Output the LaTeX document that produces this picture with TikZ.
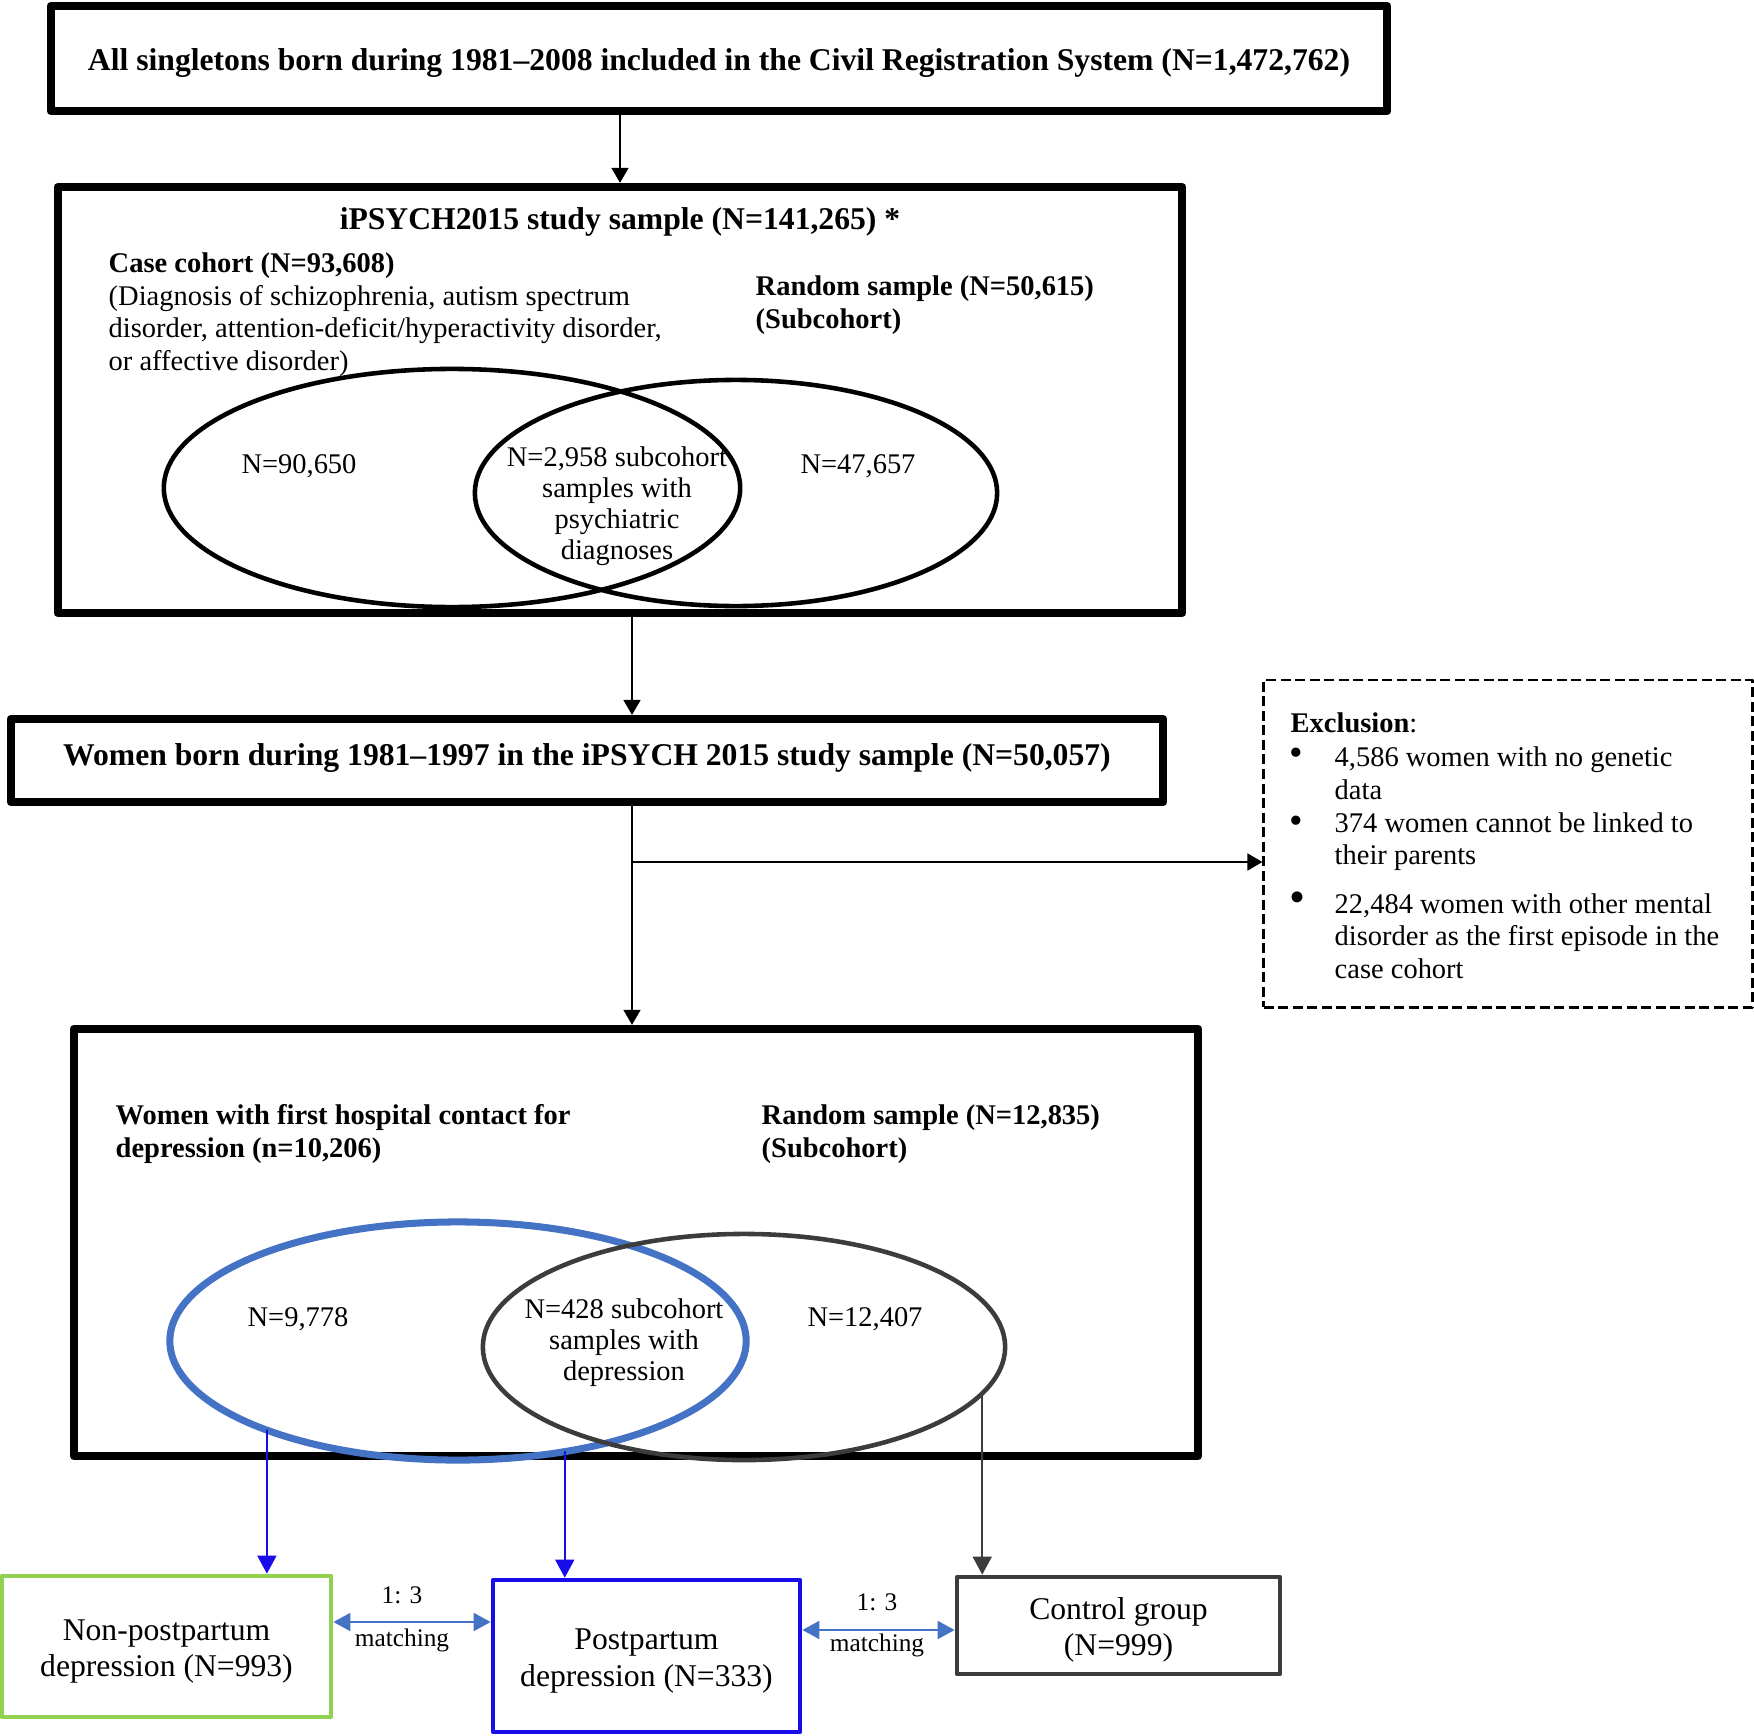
\documentclass[tikz,border=0pt]{standalone}
\usepackage{fontspec}
\setmainfont{Liberation Serif}
\usetikzlibrary{arrows.meta,shapes.geometric}
\definecolor{vennblue}{HTML}{4472C4}
\definecolor{ppblue}{RGB}{24,12,232}
\definecolor{npgreen}{HTML}{92D050}
\definecolor{ctrlgray}{HTML}{3C3C3C}
\newcommand{\twolines}[2]{\raisebox{-1.3pt}[\height][\depth]{\begin{tabular}{@{}c@{}}#1\\#2\end{tabular}}}

\begin{document}
\begin{tikzpicture}[line cap=round,line join=round,>={Triangle[length=0.15cm,width=0.17cm]},x=0.01cm,y=-0.01cm,
    bigbox/.style={draw,line width=2.3pt,inner sep=0pt,font=\bfseries\fontsize{9}{10.5}\selectfont},
    txt/.style={inner sep=0pt,align=left,font=\fontsize{8.1}{9.3}\selectfont},
    venn/.style={ellipse,draw,inner sep=0pt,outer sep=0pt,line width=1.3pt},
    endbox/.style={draw,line width=1.3pt,inner sep=0pt,align=center,font=\fontsize{9}{10.5}\selectfont},
    small/.style={inner sep=0pt,font=\fontsize{7.2}{8}\selectfont},
    flow/.style={->,line width=0.45pt},
    match/.style={{Triangle[length=0.17cm,width=0.18cm]}-{Triangle[length=0.17cm,width=0.18cm]},vennblue,line width=0.6pt}]
    \useasboundingbox (0,0) rectangle (1754,1736);

    % source population
    \node[bigbox,minimum width=13.36cm,minimum height=1.05cm] (all) at (719,58.5)
        {\raisebox{-1.3pt}[\height][\depth]{All singletons born during 1981--2008 included in the Civil Registration System (N=1,472,762)}};

    % iPSYCH2015 sample
    \node[bigbox,minimum width=11.24cm,minimum height=4.26cm] (sample) at (620,400) {};
    \node[txt,font=\bfseries\fontsize{9}{10.5}\selectfont] (sampleTitle) at (620,222) {iPSYCH2015 study sample (N=141,265) *};
    \node[txt,anchor=west] (caseText) at (108,314.5) {\textbf{Case cohort (N=93,608)}\\(Diagnosis of schizophrenia, autism spectrum\\disorder, attention-deficit/hyperactivity disorder,\\or affective disorder)};
    \node[txt,anchor=west] (randText) at (755,305) {\textbf{Random sample (N=50,615)}\\\textbf{(Subcohort)}};
    \node[venn,minimum width=5.76cm,minimum height=2.38cm] (caseEll) at (452,488) {};
    \node[venn,minimum width=5.22cm,minimum height=2.26cm] (randEll) at (736,493) {};
    \node[txt] (caseOnly) at (299,466) {N=90,650};
    \node[txt] (randOnly) at (858,466) {N=47,657};
    \node[txt,align=center,font=\fontsize{8.1}{8.8}\selectfont] (overlap) at (617,506) {N=2,958 subcohort\\samples with\\psychiatric\\diagnoses};

    % women born 1981-1997
    \node[bigbox,minimum width=11.52cm,minimum height=0.83cm] (women) at (587,760.5)
        {\raisebox{0.6pt}[\height][\depth]{Women born during 1981--1997 in the iPSYCH 2015 study sample (N=50,057)}};

    % exclusions
    \node[draw,line width=0.8pt,dash pattern=on 0.1cm off 0.045cm,line cap=butt,minimum width=4.88cm,minimum height=3.27cm,inner sep=0pt] (excl) at (1508,843.5) {};
    \node[txt,anchor=west] (exclHead) at (1290,723) {\textbf{Exclusion}:};
    \node[txt,font=\fontsize{11}{12}\selectfont] (dot1) at (1296,757) {\textbullet};
    \node[txt,anchor=west] (excl1) at (1334,773.5) {4,586 women with no genetic\\data};
    \node[txt,font=\fontsize{11}{12}\selectfont] (dot2) at (1296,825) {\textbullet};
    \node[txt,anchor=west] (excl2) at (1334,841.5) {374 women cannot be linked to\\their parents};
    \node[txt,font=\fontsize{13}{14}\selectfont] (dot3) at (1297,902) {\textbullet};
    \node[txt,anchor=west] (excl3) at (1334,936) {22,484 women with other mental\\disorder as the first episode in the\\case cohort};

    % depression sample
    \node[bigbox,minimum width=11.24cm,minimum height=4.27cm] (depSample) at (636,1242.5) {};
    \node[txt,anchor=west] (depText) at (115,1134) {\textbf{Women with first hospital contact for}\\\textbf{depression (n=10,206)}};
    \node[txt,anchor=west] (subText) at (761,1134) {\textbf{Random sample (N=12,835)}\\\textbf{(Subcohort)}};
    \node[venn,draw=vennblue,line width=2pt,minimum width=5.76cm,minimum height=2.38cm] (depEll) at (458,1341) {};
    \node[venn,draw=ctrlgray,minimum width=5.22cm,minimum height=2.26cm] (subEll) at (744,1347) {};
    \node[txt] (depOnly) at (298,1319) {N=9,778};
    \node[txt] (subOnly) at (865,1319) {N=12,407};
    \node[txt,align=center,font=\fontsize{8.1}{8.8}\selectfont] (depOverlap) at (624,1343) {N=428 subcohort\\samples with\\depression};

    % final groups
    \node[endbox,draw=npgreen,minimum width=3.29cm,minimum height=1.41cm] (nonBox) at (166.5,1646.5) {\twolines{Non-postpartum}{depression (N=993)}};
    \node[endbox,draw=ppblue,minimum width=3.07cm,minimum height=1.52cm] (ppBox) at (646.5,1656) {\twolines{Postpartum}{depression (N=333)}};
    \node[endbox,draw=ctrlgray,minimum width=3.23cm,minimum height=0.97cm] (ctrlBox) at (1118.5,1625.5) {\twolines{Control group}{(N=999)}};

    % flow
    \draw[flow] (sample.north |- all.south) -- (sample.north);
    \coordinate (spine) at (632,0);
    \draw[flow] (spine |- sample.south) -- (spine |- women.north);
    \draw[flow] (spine |- women.south) -- (spine |- depSample.north);
    \coordinate (branch) at (632,862);
    \draw[flow] (branch) -- (branch -| excl.west);

    \draw[flow,ppblue,>={Triangle[length=0.18cm,width=0.19cm]}] (depEll.205) -- (depEll.205 |- nonBox.north);
    \draw[flow,ppblue,>={Triangle[length=0.18cm,width=0.19cm]}] (depEll.314) -- (depEll.314 |- ppBox.north);
    \draw[flow,ctrlgray,>={Triangle[length=0.18cm,width=0.19cm]}] (subEll.349) -- (subEll.349 |- ctrlBox.north);

    % matching
    \coordinate (lvl1) at (0,1622);
    \coordinate (lvl2) at (0,1630);
    \draw[match] (nonBox.east |- lvl1) -- (ppBox.west |- lvl1);
    \draw[match] (ppBox.east |- lvl2) -- (ctrlBox.west |- lvl2);
    \node[small] (ratio1) at (402,1595) {1: 3};
    \node[small] (match1) at (402,1640) {matching};
    \node[small] (ratio2) at (877,1602) {1: 3};
    \node[small] (match2) at (877,1645) {matching};
\end{tikzpicture}
\end{document}
